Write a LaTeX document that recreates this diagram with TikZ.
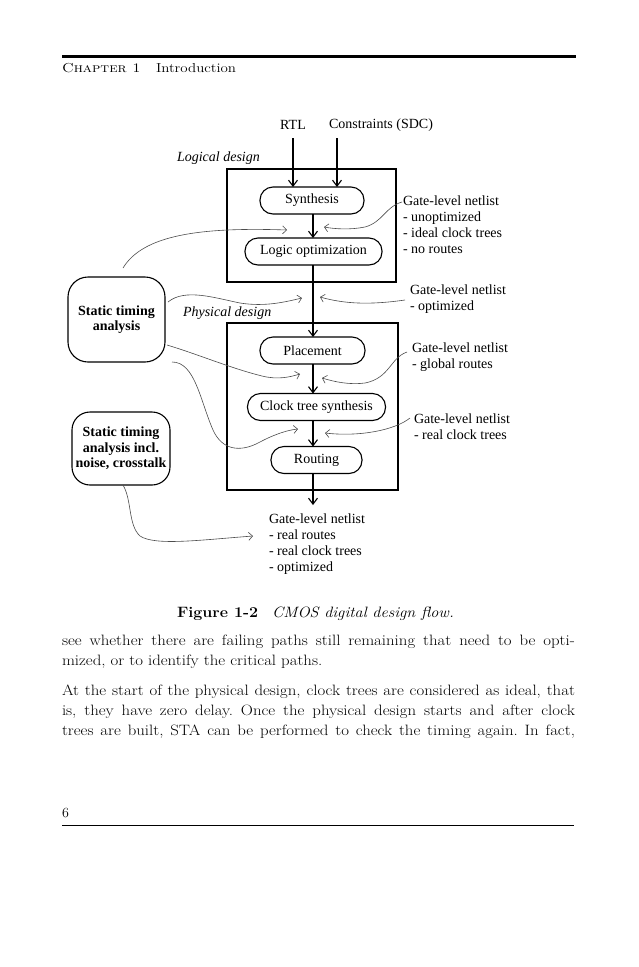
\documentclass[tikz,border=0pt]{standalone}
\usepackage{graphicx}
\usepackage{fontspec}
\newfontfamily\dia{Liberation Serif}
\usetikzlibrary{arrows.meta,calc}
\newcommand{\bodyfont}{\fontsize{15}{20}\selectfont\frenchspacing}
\newcommand{\bline}[1]{\scalebox{1.12}[1]{\makebox[458pt][s]{#1}}}
\newcommand{\bshort}[1]{\scalebox{1.12}[1]{#1}}
\newcommand{\headfont}{\fontsize{13}{16}\selectfont}
\begin{document}
\begin{tikzpicture}[x=1pt,y=-1pt,
  every node/.style={inner sep=0pt, outer sep=0pt},
  dtext/.style={font=\dia\fontsize{14}{16}\selectfont},
  dbold/.style={font=\dia\bfseries\fontsize{14}{15.5}\selectfont},
  proc/.style={draw, line width=1.1pt, rounded corners=13pt, minimum height=27pt, dtext},
  stabox/.style={draw, line width=1.1pt, rounded corners=20pt, dbold, align=center},
  frame/.style={draw, line width=1.1pt},
  flow/.style={line width=1.1pt, -{Straight Barb[length=6pt,width=9pt,line width=1.1pt]}},
  note/.style={draw=black!70, line width=0.6pt, -{Straight Barb[length=4pt,width=8pt,line width=0.6pt]}},
  notetext/.style={dtext, align=left, anchor=north west},
]
\fill[white] (0,0) rectangle (638,967);
\useasboundingbox (0,0) rectangle (638,967);

% header
\draw[line width=3pt] (62,56) -- (576,56);
\node[anchor=base west, font=\headfont] (chap) at (62,72) {\scalebox{1.15}[1]{\textsc{Chapter 1}}};
\node[anchor=base west, font=\headfont] (intro) at (156,72) {\scalebox{1.15}[1]{Introduction}};

% inputs
\node[dtext] (rtl) at (293,125) {RTL};
\node[dtext] (sdc) at (381,125) {Constraints (SDC)};
\coordinate (ax) at (313,0);
\coordinate (cx) at (337,0);

% frames
\node[frame, minimum width=169pt, minimum height=113pt] (lbox) at (311.5,225.5) {};
\node[frame, minimum width=171pt, minimum height=167pt] (pbox) at (312.5,406.5) {};
\node[dtext, font=\dia\itshape\fontsize{14}{16}\selectfont, anchor=west] (ltitle) at (177,158) {Logical design};
\node[dtext, font=\dia\itshape\fontsize{14}{16}\selectfont, anchor=west] (ptitle) at (183,313) {Physical design};

% process steps
\node[proc, minimum width=104pt] (syn) at (312,200.5) {Synthesis};
\node[proc, minimum width=137pt] (lo) at (313.5,251.5) {Logic optimization};
\node[proc, minimum width=105pt] (pl) at (312.5,350.5) {Placement};
\node[proc, minimum width=138pt] (cts) at (316.5,407) {Clock tree synthesis};
\node[proc, minimum width=91pt] (rt) at (316.5,460) {Routing};

% flow arrows
\draw[flow] (rtl.south |- 0,138) -- (rtl.south |- syn.north);
\draw[flow] (cx |- 0,138) -- (cx |- syn.north);
\draw[flow] (ax |- syn.south) -- (ax |- lo.north);
\draw[flow] (ax |- lo.south) -- (ax |- pl.north);
\draw[flow] (ax |- pl.south) -- (ax |- cts.north);
\draw[flow] (ax |- cts.south) -- (ax |- rt.north);
\coordinate (outend) at (313,505);
\draw[flow] (ax |- rt.south) -- (outend);

% STA boxes
\node[stabox, minimum width=97pt, minimum height=85pt] (sta1) at (116.5,319.5) {Static timing\\analysis};
\node[stabox, minimum width=98pt, minimum height=73pt, rounded corners=18pt] (sta2) at (121,448.5) {Static timing\\analysis incl.\\noise, crosstalk};

% notes
\node[notetext] (n1) at (403,196) {Gate-level netlist\\- unoptimized\\- ideal clock trees\\- no routes};
\node[notetext] (n2) at (410,285) {Gate-level netlist\\- optimized};
\node[notetext] (n3) at (412,343) {Gate-level netlist\\- global routes};
\node[notetext] (n4) at (414,414) {Gate-level netlist\\- real clock trees};
\node[notetext] (n5) at (269,514) {Gate-level netlist\\- real routes\\- real clock trees\\- optimized};

% tip coordinates
\coordinate (t1) at (287,230);
\coordinate (t2) at (302,298);
\coordinate (t3) at (300,374);
\coordinate (t4) at (298,429);
\coordinate (t5) at (253,536);
\coordinate (r1) at (324,227);
\coordinate (r2) at (320,297);
\coordinate (r3) at (322,378);
\coordinate (r4) at (325,433);

% STA connectors
\draw[note] ($(sta1.north)+(6.5,-9)$) .. controls (143,235) and (200,227) .. (t1);
\draw[note] ($(sta1.east)+(3,-17.5)$) .. controls (185,288) and (215,298) .. (240,303) .. controls (265,307) and (285,302) .. (t2);
\draw[note] ($(sta1.east)+(2,25.5)$) .. controls (200,355) and (230,368) .. (262,376) .. controls (278,380) and (290,377) .. (t3);
\draw[note] ($(sta1.east)+(7,42.5)$) .. controls (195,362) and (200,400) .. (213,430) .. controls (222,450) and (240,453) .. (260,442) .. controls (275,434) and (288,430) .. (t4);
\draw[note] ($(sta2.south)+(2,0)$) .. controls (132,500) and (128,525) .. (140,536) .. controls (155,546) and (200,540) .. (t5);

% netlist connectors
\draw[note] ($(n1.north west)+(-1,6)$) .. controls (385,207) and (383,222) .. (365,227) .. controls (350,230) and (335,229) .. (r1);
\draw[note] ($(n2.north west)+(-5,15)$) .. controls (370,305) and (345,304) .. (r2);
\draw[note] ($(n3.north west)+(-5,9)$) .. controls (390,358) and (390,378) .. (365,383) .. controls (350,385) and (335,382) .. (r3);
\draw[note] ($(n4.north west)+(-4,4)$) .. controls (395,430) and (360,437) .. (r4);

% caption
\node[anchor=base west, font=\bfseries\fontsize{15}{18}\selectfont] (figno) at (177,617) {\scalebox{1.07}[1]{Figure 1-2}};
\node[anchor=base west, font=\itshape\fontsize{15}{18}\selectfont] (figcap) at (272,617) {\scalebox{1.08}[1]{CMOS digital design flow.}};

% body text
\node[anchor=base west, font=\bodyfont] (b1) at (62,645) {\bline{see whether there are failing paths still remaining that need to be opti-}};
\node[anchor=base west, font=\bodyfont] (b2) at (62,665) {\bshort{mized, or to identify the critical paths.}};
\node[anchor=base west, font=\bodyfont] (b3) at (62,695) {\bline{At the start of the physical design, clock trees are considered as ideal, that}};
\node[anchor=base west, font=\bodyfont] (b4) at (62,715) {\bline{is, they have zero delay. Once the physical design starts and after clock}};
\node[anchor=base west, font=\bodyfont] (b5) at (62,735) {\bline{trees are built, STA can be performed to check the timing again. In fact,}};

% footer
\node[anchor=base west, font=\fontsize{14}{16}\selectfont] (pg) at (62,817) {6};
\draw[line width=0.8pt] (62,825) -- (574,825);
\end{tikzpicture}
\end{document}
